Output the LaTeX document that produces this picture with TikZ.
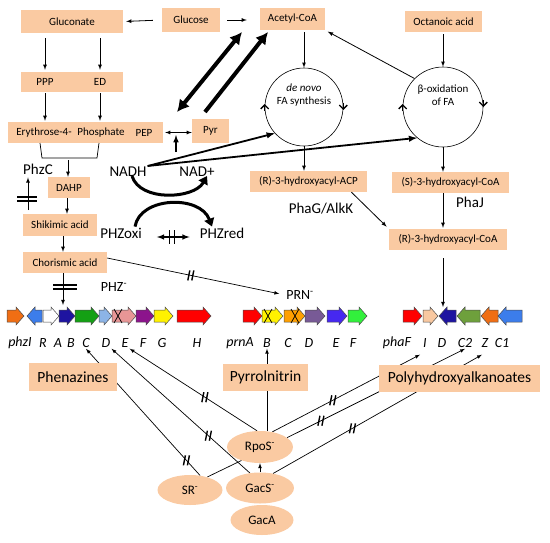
\documentclass[tikz,border=0pt]{standalone}
\usepackage{fontspec}
\setmainfont{Carlito}
\usetikzlibrary{shapes.geometric, arrows.meta, calc}

\definecolor{peach}{RGB}{250,202,162}
\definecolor{gorange}{RGB}{240,110,20}
\definecolor{gblue}{RGB}{60,125,235}
\definecolor{gnavy}{RGB}{30,20,160}
\definecolor{ggreen}{RGB}{20,160,20}
\definecolor{gsky}{RGB}{140,180,230}
\definecolor{gpink}{RGB}{232,150,150}
\definecolor{gpurple}{RGB}{140,20,140}
\definecolor{gamber}{RGB}{255,160,0}
\definecolor{gmauve}{RGB}{120,90,150}
\definecolor{gviolet}{RGB}{70,40,240}
\definecolor{glime}{RGB}{50,240,60}
\definecolor{gpeach}{RGB}{248,200,160}
\definecolor{golive}{RGB}{110,160,60}

\pgfdeclarelayer{background}
\pgfsetlayers{background,main}

\begin{document}
\begin{tikzpicture}[x = 1pt, y = -1pt, > = latex, font = \fontsize{11}{13}\selectfont,
	box/.style = {fill = peach, inner sep = 0pt},
	big/.style = {inner sep = 1pt, font = \fontsize{15}{18}\selectfont},
	gtag/.style = {inner sep = 1pt, font = \fontsize{14}{16}\selectfont\itshape},
	prod/.style = {fill = peach, inner sep = 0pt, font = \fontsize{15.5}{18}\selectfont},
	reg/.style = {ellipse, fill = peach, inner sep = 0pt, font = \fontsize{13}{15}\selectfont},
	arr/.style = {->, line width = 0.8pt},
	fat/.style = {line width = 4pt, -{Latex[length = 12pt, width = 13pt]}},
	fatboth/.style = {line width = 4pt, {Latex[length = 12pt, width = 13pt]}-{Latex[length = 12pt, width = 13pt]}},
	swirl/.style = {line width = 3pt, -{Triangle[length = 8pt, width = 10pt]}},
	cyc/.style = {-{Straight Barb[length = 4pt, width = 8pt]}, line width = 1.3pt},
	gene/.style = {draw = black!70, line width = 0.5pt},
	bars/.style = {line width = 1.3pt},
	brk/.pic = {\draw [line width = 1.4pt] (-3, 5) -- (-1, -5) (1, 5) -- (3, -5);}
]

\useasboundingbox (0, 0) rectangle (550, 542);

% Sugars and central metabolism

\node [box, minimum width = 102pt, minimum height = 23pt] (glc) at (72, 21.5) {Gluconate};
\node [box, minimum width = 58pt, minimum height = 24pt] (gls) at (191, 20) {Glucose};
\node [box, minimum width = 65pt, minimum height = 22pt] (aco) at (292.5, 19) {Acetyl-CoA};
\node [box, minimum width = 77pt, minimum height = 21pt] (oct) at (443.5, 21.5) {Octanoic acid};

\node [box, minimum width = 102pt, minimum height = 20pt] (ppp) at (72, 82) {};
\node (tppp) at (45, 82) {PPP};
\node (ted) at (100, 82) {ED};

\node [box, minimum width = 155pt, minimum height = 21pt] (ery) at (85.5, 132.5) {};
\node (tery) at (44, 132.5) {Erythrose-4-};
\node (tpho) at (101, 132.5) {Phosphate};
\node (tpep) at (144, 132.5) {PEP};
\node [box, minimum width = 37pt, minimum height = 24pt] (pyr) at (210.5, 131) {Pyr};

\node [box, minimum width = 42pt, minimum height = 21pt] (dahp) at (69, 187.5) {DAHP};
\node [box, minimum width = 74pt, minimum height = 22pt] (shk) at (60, 225) {Shikimic acid};
\node [box, minimum width = 84pt, minimum height = 21pt] (cho) at (65, 262.5) {Chorismic acid};

% Fatty acid cycles

\node [circle, draw, line width = 0.6pt, minimum size = 78pt, inner sep = 0pt] (dn) at (304, 107) {};
\node [align = center] (tdn) at (304, 95) {\textit{de novo}\\FA synthesis};
\node [circle, draw, line width = 0.6pt, minimum size = 80pt, inner sep = 0pt] (bo) at (443, 107) {};
\node [align = center] (tbo) at (443, 95) {β-oxidation\\of FA};

\node [box, minimum width = 117pt, minimum height = 21pt] (acp) at (308.5, 181.5) {(R)-3-hydroxyacyl-ACP};
\node [box, minimum width = 117pt, minimum height = 21pt] (scoa) at (450.5, 182.5) {(S)-3-hydroxyacyl-CoA};
\node [box, minimum width = 118pt, minimum height = 21pt] (rcoa) at (448, 239.5) {(R)-3-hydroxyacyl-CoA};
\node [big] (phag) at (321, 209) {PhaG/AlkK};
\node [big] (phaj) at (470, 202) {PhaJ};

% Redox and labels

\node [big] (nadh) at (128, 172) {NADH};
\node [big] (nad) at (197, 172) {NAD+};
\node [big] (phzo) at (121, 233) {PHZoxi};
\node [big] (phzr) at (222, 233) {PHZred};
\node [big] (phzc) at (38, 169) {PhzC};
\node [big, font = \fontsize{14}{16}\selectfont] (phzm) at (114, 287) {PHZ\textsuperscript{-}};
\node [big, font = \fontsize{14}{16}\selectfont] (prnm) at (300, 295) {PRN\textsuperscript{-}};

% Gene clusters

\foreach \s/\t/\c in {7/24/gorange, 42/27/gblue, 43/59/white, 59/75/gnavy, 75/99/ggreen,
		99/112/gsky, 112/136/gpink, 136/154/gpurple, 154/173/yellow, 177/211/red,
		243/262/red, 262/283/yellow, 284/305/gamber, 305/325/gmauve, 327/347/gviolet, 348/367/glime,
		403/422/red, 423/438/gpeach, 456/439/gnavy, 480/457/golive, 498/481/gorange, 522/498/gblue}
{
	\pgfmathsetmacro\h{\t > \s ? \t - 8 : \t + 8}
	\filldraw [gene, fill = \c] (\s, 310) -- (\h, 310) -- (\h, 307) -- (\t, 316)
		-- (\h, 325) -- (\h, 322) -- (\s, 322) -- cycle;
}

\foreach \x in {118, 268, 295}
	\draw [line width = 0.7pt] (\x - 4, 309) -- (\x + 4, 323) (\x - 4, 323) -- (\x + 4, 309);

\foreach \n/\x/\t in {gI/20/phzI, gR/43/R, gA/58/A, gB/71/B, gC/86/C, gD/106/D, gE/125/E,
		gF/143/F, gG/162/G, gH/197/H, pA/240/prnA, pB/267/B, pC/288/C, pD/309/D, pE/336/E,
		pF/353/F, aF/397/phaF, aI/425/I, aD/442/D, aC2/465/C2, aZ/485/Z, aC1/502/C1}
	\node [gtag] (\n) at (\x, 343) {\t};

% Products and regulators

\node [prod, minimum width = 88pt, minimum height = 28pt] (phen) at (73, 377) {Phenazines};
\node [prod, minimum width = 85pt, minimum height = 27pt] (pyrn) at (265.5, 377.5) {Pyrrolnitrin};
\node [prod, minimum width = 161pt, minimum height = 27pt] (pha) at (459.5, 378.5) {Polyhydroxyalkanoates};

\node [reg, minimum width = 66pt, minimum height = 32pt] (rpos) at (260, 447) {RpoS\textsuperscript{-}};
\node [reg, minimum width = 65pt, minimum height = 30pt] (sr) at (190, 490) {SR\textsuperscript{-}};
\node [reg, minimum width = 68pt, minimum height = 31pt] (gacs) at (260, 488) {GacS\textsuperscript{-}};
\node [reg, minimum width = 63pt, minimum height = 30pt] (gaca) at (262, 520) {GacA};

% Upper pathway arrows

\draw [arr, shorten <= 9pt, shorten >= 3pt] (gls.west) -- (glc.east);
\draw [arr, shorten <= 7pt, shorten >= 13pt] (gls.east) -- (gls.east -| aco.west);
\draw [arr, shorten <= 5pt, shorten >= 2pt] (glc.south -| tppp) -- (ppp.north -| tppp);
\draw [arr, shorten <= 5pt, shorten >= 2pt] (glc.south -| ted) -- (ppp.north -| ted);
\draw [arr, shorten <= 1pt, shorten >= 1pt] (ppp.south -| tppp) -- (ery.north -| tppp);
\draw [arr, shorten <= 1pt, shorten >= 1pt] (ppp.south -| ted) -- (ery.north -| ted);
\draw [<->, line width = 0.8pt, shorten <= 2pt] (ery.east) -- (ery.east -| pyr.west);

\coordinate (ebr) at (68, 158);
\draw [line width = 0.7pt] (40, 143) -- (42, 158) -- (97, 158) -- (99, 143);
\draw [arr, shorten <= 2pt] (ebr) -- (dahp.north -| ebr);
\draw [arr] (dahp.south -| 67, 0) -- (shk.north -| 67, 0);
\draw [arr] (shk.south -| 63, 0) -- (cho.north -| 63, 0);

\coordinate (czb) at (28, 210);
\draw [arr, shorten >= 2pt] (czb) -- (czb |- phzc.south);
\draw [bars] (17, 197) -- (37, 197) (17, 201) -- (37, 201);

\coordinate (phzB) at (63, 305);
\draw [arr] (cho.south -| phzB) -- (phzB);
\draw [bars] (53, 285) -- (77, 285) (53, 289) -- (77, 289);

\draw [arr, line width = 0.7pt, shorten >= 6pt] (cho.east |- 0, 258) -- (prnm.west) coordinate [pos = 0.47] (b7);

\coordinate (f1a) at (177, 112);
\coordinate (f1b) at (242, 32);
\coordinate (f2a) at (205, 112);
\coordinate (f2b) at (268, 32);
\draw [fatboth] (f1a) -- (f1b);
\draw [fat] (f2a) -- (f2b);

% Fatty acid arrows

\draw [arr, shorten <= 2pt] (dn.north |- aco.south) -- (dn.north);
\draw [arr, shorten <= 2pt] (bo.north |- oct.south) -- (bo.north);
\draw [arr, shorten >= 3pt] (bo.north west) -- (aco.south east);
\draw [arr] (dn.south) -- (dn.south |- acp.north);
\draw [arr] (bo.south) -- (bo.south |- scoa.north);
\draw [arr, shorten >= 3pt] (acp.-14) -- (rcoa.north west);
\draw [arr, shorten >= 1pt] (scoa.south -| bo.south) -- (rcoa.north -| bo.south);
\coordinate (phaD) at (443, 307);
\draw [arr, shorten <= 8pt] (rcoa.south -| phaD) -- (phaD);

\draw [cyc] ($(dn.west) + (0, 4)$) -- ($(dn.west) + (0, -3)$);
\draw [cyc] ($(dn.east) + (0, -4)$) -- ($(dn.east) + (0, 3)$);
\draw [cyc] ($(bo.west) + (0, 4)$) -- ($(bo.west) + (0, -3)$);
\draw [cyc] ($(bo.east) + (0, -7)$) -- ($(bo.east) + (0, 0)$);

% Redox arrows

\draw [->, line width = 1.8pt] (nadh.north east) -- (dn.222);
\draw [->, line width = 1.8pt] (nadh.north east) -- (bo.230);
\coordinate (nup) at (176, 152);
\draw [->, line width = 1.5pt, shorten >= 4pt] (nup) -- (nup |- pyr.center);

\draw [swirl] ([xshift = 4pt, yshift = 2pt] nadh.south) .. controls +(8, 26) and +(-13, 23) .. ([xshift = 10pt, yshift = 2pt] nad.south);
\draw [swirl] ([xshift = 14pt] phzo.north) .. controls +(5, -30) and +(-12, -32) .. ([xshift = -10pt] phzr.north);

\draw [<->, line width = 1.5pt, shorten <= 14pt, shorten >= 9pt]
	([yshift = -4pt] phzo.east) -- ([yshift = -4pt] phzr.west) coordinate [pos = 0.5] (pz);
\draw [bars] ($(pz) + (-1.5, -7)$) -- ($(pz) + (-1.5, 7)$) ($(pz) + (3.5, -7)$) -- ($(pz) + (3.5, 7)$);

% Regulation lines

\begin{pgfonlayer}{background}
	\draw [arr, line width = 0.7pt] (sr.55) -- (gC.south) coordinate [pos = 0.12] (b1);
	\draw [arr, line width = 0.7pt] (gacs.124) -- (gD.south east) coordinate [pos = 0.30] (b2);
	\draw [arr, line width = 0.7pt] (rpos.100) -- (gE.south east) coordinate [pos = 0.41] (b3);
	\draw [arr, line width = 0.7pt] (rpos.north -| pB) -- (pB.south);
	\draw [arr, line width = 0.7pt] (rpos.51) -- ($(aI.south) + (-5, 6)$) coordinate [pos = 0.41] (b4);
	\draw [arr, line width = 0.7pt] (rpos.19) -- (aC2.south) coordinate [pos = 0.19] (b5);
	\draw [arr, line width = 0.7pt] (gacs.48) -- ($(aZ.south) + (-3, 6)$) coordinate [pos = 0.38] (b6);
	\draw [line width = 0.7pt] (sr.37) -- (rpos.216);
	\draw [arr, line width = 0.7pt] (gacs.north) -- (rpos.south);
\end{pgfonlayer}

\foreach \b in {b1, b2, b3, b4, b5, b6, b7}
	\pic at (\b) {brk};

\end{tikzpicture}
\end{document}
